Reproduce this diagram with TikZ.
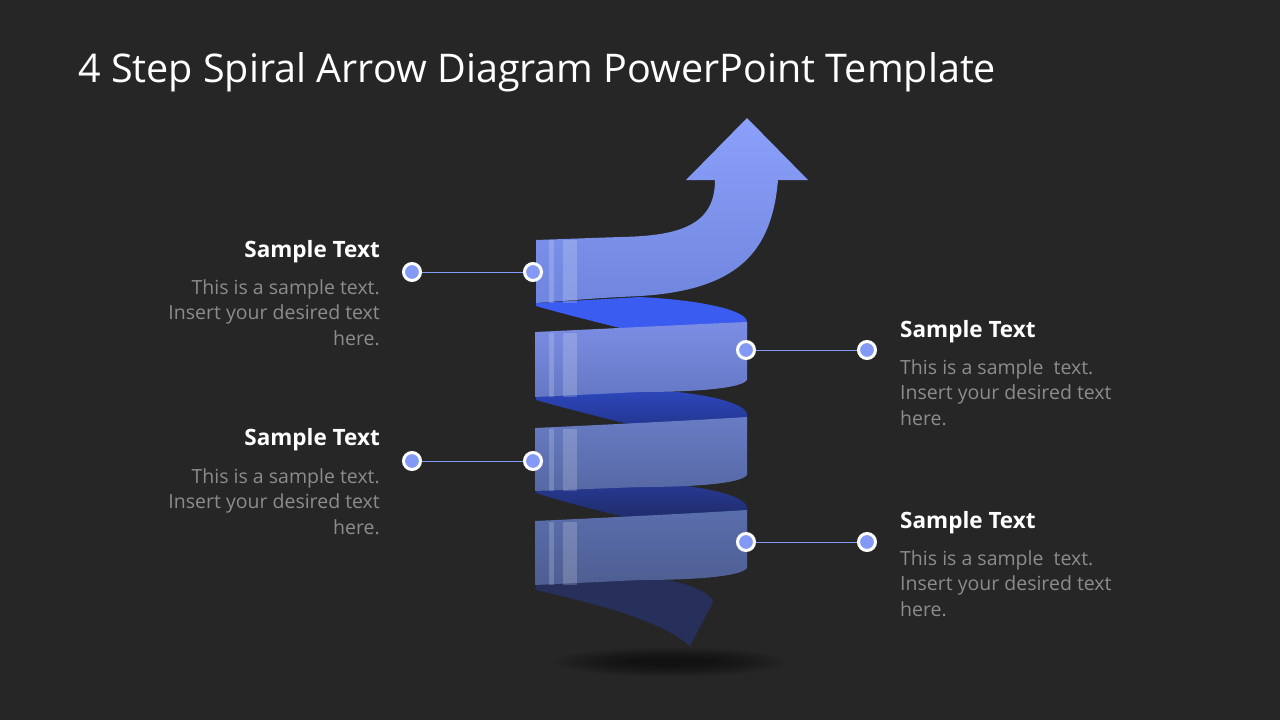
\documentclass[tikz,border=0pt]{standalone}
\usepackage{fontspec}
\setmainfont{Open Sans}
\begin{document}
\begin{tikzpicture}[x=1pt,y=-1pt,
  head/.style={font=\fontsize{22.5}{26}\selectfont\bfseries,text=white,inner sep=0pt},
  body/.style={font=\fontsize{19.5}{25.5}\selectfont,text=black!45!white,inner sep=0pt},
  ring/.style={circle,draw=white,line width=3pt,fill=dotc,minimum size=17pt,inner sep=0pt},
  lnk/.style={draw=dotc,line width=0.8pt},
  stripe/.style={fill=white,fill opacity=0.18}]
\definecolor{bg}{HTML}{262626}
\definecolor{dotc}{HTML}{8399F6}
\fill[bg] (0,0) rectangle (1280,720);
\useasboundingbox (0,0) rectangle (1280,720);
\node[anchor=base west,font=\fontsize{39.5}{44}\selectfont,text=white,inner sep=0pt] (title) at (78,82) {4 Step Spiral Arrow Diagram PowerPoint Template};
% shadow
\foreach \i in {1,...,8}{
  \fill[black,opacity=0.07] (670,662) ellipse ({125-\i*10} and {16-\i*1.5});
}
% back ribbons
\fill[color={rgb,255:red,58;green,92;blue,240}] (536,303) -- (640,297) .. controls (700,300) and (747,310) .. (747,322) -- (747,334) .. controls (700,336) and (660,336) .. (640,333) .. controls (600,323) and (560,313) .. (536,306) -- cycle;
\shade[top color={rgb,255:red,45;green,72;blue,190},bottom color={rgb,255:red,35;green,52;blue,140}] (536,397) .. controls (580,390) and (620,388) .. (640,389) .. controls (700,392) and (747,402) .. (747,415) -- (747,428) .. controls (700,430) and (660,430) .. (640,427) .. controls (600,417) and (560,407) .. (536,400) -- cycle;
\shade[top color={rgb,255:red,40;green,58;blue,150},bottom color={rgb,255:red,30;green,42;blue,100}] (536,490) .. controls (580,483) and (620,481) .. (640,482) .. controls (700,485) and (747,495) .. (747,508) -- (747,522) .. controls (700,524) and (660,524) .. (640,521) .. controls (600,511) and (560,501) .. (536,493) -- cycle;
\fill[color={rgb,255:red,38;green,48;blue,90}] (536,585) .. controls (580,578) and (620,576) .. (640,577) .. controls (690,580) and (713,595) .. (713,602) -- (690,646) .. controls (660,620) and (600,605) .. (536,590) -- cycle;
% bands
\shade[top color={rgb,255:red,124;green,142;blue,228},bottom color={rgb,255:red,100;green,120;blue,196}] (535,332) .. controls (620,328) and (700,324) .. (747,322) -- (747,380) .. controls (740,390) and (680,392) .. (640,392) -- (535,397) -- cycle;
\shade[top color={rgb,255:red,104;green,124;blue,196},bottom color={rgb,255:red,86;green,104;blue,164}] (535,428) .. controls (620,424) and (700,420) .. (747,417) -- (747,475) .. controls (740,485) and (680,487) .. (640,487) -- (535,491) -- cycle;
\shade[top color={rgb,255:red,90;green,110;blue,172},bottom color={rgb,255:red,78;green,94;blue,146}] (535,521) .. controls (620,517) and (700,513) .. (747,510) -- (747,568) .. controls (740,578) and (680,580) .. (640,580) -- (535,585) -- cycle;
\shade[top color={rgb,255:red,138;green,160;blue,250},bottom color={rgb,255:red,112;green,134;blue,222}] (536,240) -- (536,303) .. controls (600,298) .. (640,296) .. controls (740,290) and (772,250) .. (778,180) -- (808,180) -- (747,118) -- (686,180) -- (715,180) .. controls (715,225) and (680,236) .. (620,237) -- cycle;
% stripes
\foreach \t/\b in {240/303,333/397,429/491,522/585}{
  \fill[stripe] (549,\t) rectangle (554,\b);
  \fill[stripe] (563,\t) rectangle (577,\b);
}
% connectors
\node[ring] (l1a) at (412,272) {}; \node[ring] (l1b) at (533,272) {};
\node[ring] (l2a) at (412,461) {}; \node[ring] (l2b) at (533,461) {};
\node[ring] (r1a) at (746,350) {}; \node[ring] (r1b) at (867,350) {};
\node[ring] (r2a) at (746,542) {}; \node[ring] (r2b) at (867,542) {};
\draw[lnk] (l1a) -- (l1b); \draw[lnk] (l2a) -- (l2b);
\draw[lnk] (r1a) -- (r1b); \draw[lnk] (r2a) -- (r2b);
% texts
\node[head,anchor=base east] (h1) at (380,257) {Sample Text};
\node[body,anchor=north east,align=right] (b1) at (380,279) {This is a sample text.\\Insert your desired text\\here.};
\node[head,anchor=base east] (h2) at (380,445) {Sample Text};
\node[body,anchor=north east,align=right] (b2) at (380,468) {This is a sample text.\\Insert your desired text\\here.};
\node[head,anchor=base west] (h3) at (900,337) {Sample Text};
\node[body,anchor=north west,align=left] (b3) at (900,359) {This is a sample\ \ text.\\Insert your desired text\\here.};
\node[head,anchor=base west] (h4) at (900,528) {Sample Text};
\node[body,anchor=north west,align=left] (b4) at (900,550) {This is a sample\ \ text.\\Insert your desired text\\here.};
\end{tikzpicture}
\end{document}
